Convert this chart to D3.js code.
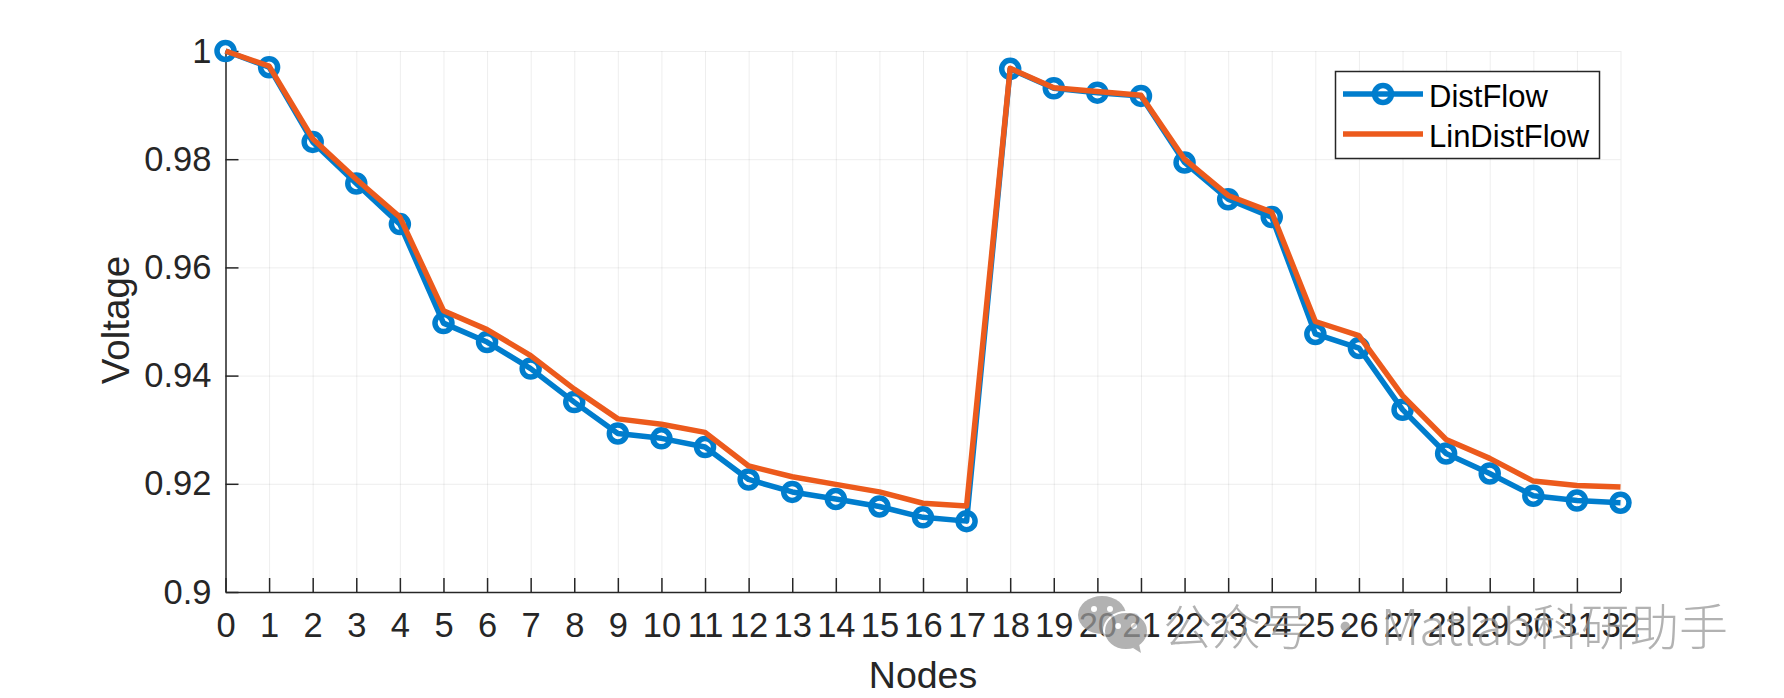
<!DOCTYPE html>
<html>
<head>
<meta charset="utf-8">
<script src="https://cdn.jsdelivr.net/npm/d3@7"></script>
<style>
  html, body { margin: 0; padding: 0; background: white; }
  svg { display: block; }
  text { font-family: "Liberation Sans", Arial, sans-serif; }
</style>
</head>
<body>
<svg id="chart" width="1784" height="698"></svg>
<script>
const nodes = d3.range(0, 33);
const distFlow = [1, 0.997, 0.9832, 0.9755, 0.968, 0.9497, 0.9462, 0.9413, 0.9351, 0.9293, 0.9284,
  0.9268, 0.9208, 0.9185, 0.9172, 0.9158, 0.9138, 0.9131, 0.9967, 0.9931, 0.9923, 0.9917,
  0.9794, 0.9726, 0.9693, 0.9477, 0.9451, 0.9337, 0.9256, 0.9219, 0.9178, 0.9169, 0.9165];
const linDistFlow = [1, 0.9972, 0.9838, 0.9763, 0.9693, 0.952, 0.9485, 0.9437, 0.9375, 0.932, 0.931,
  0.9295, 0.9233, 0.9213, 0.9199, 0.9185, 0.9164, 0.9159, 0.9968, 0.9932, 0.9925, 0.9918,
  0.98, 0.9733, 0.9702, 0.95, 0.9474, 0.9363, 0.9282, 0.9247, 0.9205, 0.9197, 0.9194];
const yTicks = [0.9, 0.92, 0.94, 0.96, 0.98, 1];
const yTickLabels = ["0.9", "0.92", "0.94", "0.96", "0.98", "1"];

const blue = "#007dcd";
const orange = "#ec5a1c";
const axisColor = "#262626";

const plotLeft = 225.5, plotRight = 1620.5, plotTop = 51, plotBottom = 592;

const svg = d3.select("#chart");
const x = d3.scaleLinear().domain([0, 32]).range([plotLeft, plotRight]);
const y = d3.scaleLinear().domain([0.9, 1]).range([plotBottom, plotTop]);

// grid
const gridX = svg.append("g")
  .attr("transform", "translate(0," + plotBottom + ")")
  .call(d3.axisBottom(x).tickValues(nodes).tickSize(-(plotBottom - plotTop)).tickFormat(""));
const gridY = svg.append("g")
  .attr("transform", "translate(" + plotLeft + ",0)")
  .call(d3.axisLeft(y).tickValues(yTicks).tickSize(-(plotRight - plotLeft)).tickFormat(""));
[gridX, gridY].forEach((g) => {
  g.select(".domain").remove();
  g.selectAll("line").attr("stroke", axisColor).attr("stroke-opacity", 0.08).attr("stroke-width", 1);
});

// axes, ticks go inward
const axisX = svg.append("g")
  .attr("transform", "translate(0," + plotBottom + ")")
  .call(d3.axisBottom(x).tickValues(nodes).tickSizeInner(-14).tickSizeOuter(0).tickPadding(21));
const axisY = svg.append("g")
  .attr("transform", "translate(" + plotLeft + ",0)")
  .call(d3.axisLeft(y).tickValues(yTicks).tickSizeInner(-13).tickSizeOuter(0).tickPadding(14)
    .tickFormat((d, i) => yTickLabels[i]));
[axisX, axisY].forEach((g) => {
  g.select(".domain").attr("stroke", axisColor).attr("stroke-width", 1.5);
  g.selectAll("line").attr("stroke", axisColor).attr("stroke-width", 1.5);
  g.selectAll("text").attr("fill", axisColor).style("font-size", "34.5px")
    .style("font-family", '"Liberation Sans", Arial, sans-serif');
});

svg.append("text").text("Nodes")
  .attr("x", 923).attr("y", 688).attr("text-anchor", "middle")
  .attr("fill", axisColor).style("font-size", "37.5px");
svg.append("text").text("Voltage")
  .attr("transform", "translate(129,320) rotate(-90)").attr("text-anchor", "middle")
  .attr("fill", axisColor).style("font-size", "38.5px");

// series
const line = d3.line().x((d, i) => x(nodes[i])).y((d) => y(d));
svg.append("path").datum(distFlow).attr("d", line)
  .attr("fill", "none").attr("stroke", blue).attr("stroke-width", 5.5).attr("stroke-linejoin", "round");
svg.append("g").selectAll("circle").data(distFlow).join("circle")
  .attr("cx", (d, i) => x(nodes[i])).attr("cy", (d) => y(d)).attr("r", 8.5)
  .attr("fill", "none").attr("stroke", blue).attr("stroke-width", 5.5);
svg.append("path").datum(linDistFlow).attr("d", line)
  .attr("fill", "none").attr("stroke", orange).attr("stroke-width", 5.5).attr("stroke-linejoin", "round");

// legend
const legend = svg.append("g");
legend.append("rect").attr("x", 1335.5).attr("y", 71.5).attr("width", 264).attr("height", 87)
  .attr("fill", "white").attr("stroke", axisColor).attr("stroke-width", 1.5);
legend.append("line").attr("x1", 1343).attr("x2", 1423).attr("y1", 94).attr("y2", 94)
  .attr("stroke", blue).attr("stroke-width", 5.5);
legend.append("circle").attr("cx", 1383).attr("cy", 94).attr("r", 8.5)
  .attr("fill", "none").attr("stroke", blue).attr("stroke-width", 5.5);
legend.append("line").attr("x1", 1343).attr("x2", 1423).attr("y1", 134).attr("y2", 134)
  .attr("stroke", orange).attr("stroke-width", 5.5);
legend.append("text").text("DistFlow").attr("x", 1429).attr("y", 107).style("font-size", "31px");
legend.append("text").text("LinDistFlow").attr("x", 1429).attr("y", 147).style("font-size", "31px");

// watermark
const mark = svg.append("g").attr("opacity", 0.75);
mark.append("ellipse").attr("cx", 1102).attr("cy", 615).attr("rx", 24).attr("ry", 19).attr("fill", "#999");
mark.append("ellipse").attr("cx", 1126).attr("cy", 631).attr("rx", 22).attr("ry", 19)
  .attr("fill", "#999").attr("stroke", "white").attr("stroke-width", 2);
mark.append("path").attr("d", "M1133,648 L1141,653 L1139,644 Z").attr("fill", "#999");
[[1094, 609], [1110, 609], [1118, 626], [1134, 626]].forEach((p) => {
  mark.append("circle").attr("cx", p[0]).attr("cy", p[1]).attr("r", 3).attr("fill", "white");
});
mark.append("text").text("公众号 · Matlab科研助手")
  .attr("x", 1163).attr("y", 645)
  .attr("fill", "#999")
  .style("font-family", '"Noto Sans CJK SC", sans-serif')
  .style("font-size", "49px")
  .style("font-weight", 300);
</script>
</body>
</html>
